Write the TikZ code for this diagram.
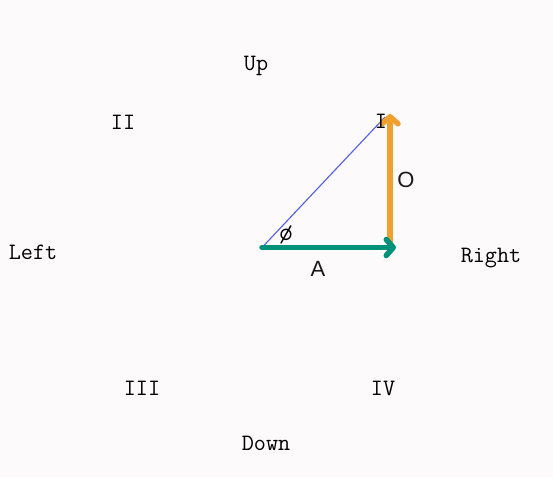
\documentclass[tikz,border=0pt]{standalone}
\usepackage{fontspec}
\setmainfont{Liberation Sans}
\usetikzlibrary{arrows.meta}
\definecolor{bg}{HTML}{FCFAFA}
\definecolor{teal}{HTML}{00917A}
\definecolor{orng}{HTML}{F0A02C}
\definecolor{blu}{HTML}{4F5DF2}
\begin{document}
\begin{tikzpicture}[x=1pt,y=-1pt,
  lbl/.style={font=\ttfamily\fontsize{23.5}{23.5}\selectfont, inner sep=0pt, text=black},
  vlbl/.style={font=\fontsize{22}{22}\selectfont, inner sep=0pt, text=black!90},
  vec/.style={line width=5.5pt, line cap=round, -{Straight Barb[round, length=7pt, width=16pt, line width=5.5pt]}}]
\fill[bg] (0,0) rectangle (553,477);
\useasboundingbox (0,0) rectangle (553,477);
\coordinate (o) at (262,247.5);
\coordinate (ob) at (390,247);
\coordinate (ot) at (390,114);
\coordinate (gt) at (396,247.5);
\coordinate (ht) at (385,117);
\draw[blu, line width=1.1pt] (o) -- (ht);
\draw[vec, orng] (ob) -- (ot);
\draw[vec, teal] (o) -- (gt);
\node[lbl] (up) at (256,66) {Up};
\node[lbl] (q2) at (123,122) {II};
\node[lbl] (q1) at (381,121) {I};
\node[vlbl] (O) at (406,180) {O};
\node[lbl, font=\ttfamily\fontsize{26}{26}\selectfont] (phi) at (286,235) {ø};
\node[lbl] (left) at (33,252) {Left};
\node[lbl] (right) at (491,258) {Right};
\node[vlbl] (A) at (318,269) {A};
\node[lbl] (q3) at (142,388) {III};
\node[lbl] (q4) at (383,388) {IV};
\node[lbl] (down) at (266,443) {Down};
\end{tikzpicture}
\end{document}
